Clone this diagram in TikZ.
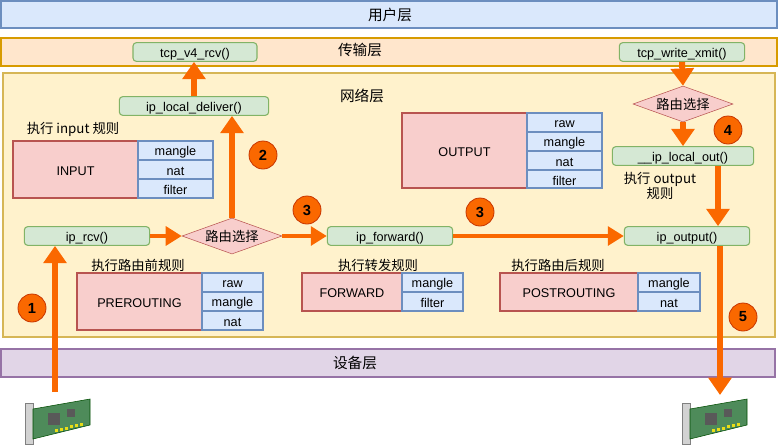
\documentclass[tikz,border=0pt]{standalone}
\usepackage{fontspec}
\setmainfont{Liberation Sans}
\newfontfamily\cjk{Noto Sans CJK SC}
\usetikzlibrary{arrows.meta,shapes.geometric}
\definecolor{ublue}{HTML}{DAE8FC}\definecolor{ubluel}{HTML}{6C8EBF}
\definecolor{torg}{HTML}{FFE6CC}\definecolor{torgl}{HTML}{D79B00}
\definecolor{nyel}{HTML}{FFF2CC}\definecolor{nyell}{HTML}{D6B656}
\definecolor{dpur}{HTML}{E1D5E7}\definecolor{dpurl}{HTML}{9673A6}
\definecolor{gfill}{HTML}{D5E8D4}\definecolor{gline}{HTML}{82B366}
\definecolor{pfill}{HTML}{F8CECC}\definecolor{pline}{HTML}{B85450}
\definecolor{orng}{HTML}{FA6800}\definecolor{orngl}{HTML}{C73500}
\definecolor{cardg}{HTML}{4E8B5A}
\begin{document}
\begin{tikzpicture}[x=0.75pt,y=-0.75pt,
  layer/.style={draw=#1,line width=0.9pt},
  lbl/.style={font=\cjk\fontsize{11}{12}\selectfont},
  fn/.style={draw=gline,fill=gfill,rounded corners=2.5pt,line width=0.8pt,minimum height=14pt,inner sep=0pt,text height=8.5pt,text depth=1pt,font=\fontsize{9.5}{10}\selectfont},
  dia/.style={diamond,aspect=2.8,draw=pline,fill=pfill,inner sep=0.5pt,minimum width=75pt,minimum height=27pt,font=\cjk\fontsize{10}{10}\selectfont},
  chain/.style={fill=pfill,draw=pline,line width=0.8pt},
  tbl/.style={fill=ublue,draw=ubluel,line width=0.8pt},
  tt/.style={text=black,yshift=-1.2pt,font=\fontsize{9.5}{10}\selectfont},
  note/.style={font=\cjk\fontsize{10}{11}\selectfont},
  num/.style={circle,fill=orng,draw=orngl,line width=0.6pt,minimum width=21pt,minimum height=18pt,inner sep=0pt,font=\bfseries\fontsize{11}{12}\selectfont},
  big/.style={draw=orng,line width=4.5pt,-{Triangle[width=17pt,length=13pt]}},
  thin/.style={draw=orng,line width=3pt,-{Triangle[width=14pt,length=12pt]}}]
\useasboundingbox (0,0) rectangle (779,444);
\draw[layer=ubluel,fill=ublue] (1,1) rectangle (777,28);
\node[lbl] (ul) at (390,15) {用户层};
\draw[layer=torgl,fill=torg] (1,38) rectangle (777,66);
\node[lbl] (tl) at (360,50) {传输层};
\draw[layer=nyell,fill=nyel] (3,73) rectangle (775,337);
\node[lbl] (nl) at (362,96) {网络层};
\draw[layer=dpurl,fill=dpur] (1,349) rectangle (775,377);
\node[lbl] (dl) at (355,363) {设备层};
\node[fn,minimum width=93pt] (tcprcv) at (195,52) {tcp\_v4\_rcv()};
\node[fn,minimum width=112pt] (deliver) at (194,106) {ip\_local\_deliver()};
\node[fn,minimum width=94pt] (xmit) at (682,52) {tcp\_write\_xmit()};
\node[fn,minimum width=106pt] (lout) at (683,156) {\_\_ip\_local\_out()};
\node[fn,minimum width=94pt] (iprcv) at (87,236) {ip\_rcv()};
\node[fn,minimum width=94pt] (fwd) at (390,236) {ip\_forward()};
\node[fn,minimum width=94pt] (ipout) at (687,236) {ip\_output()};
\node[dia] (route1) at (232,236) {路由选择};
\node[dia] (route2) at (683,104) {路由选择};
\node[note] (ninput) at (73,129) {执行 input 规则};
\draw[chain] (13,141) rectangle node[tt] (input) {INPUT} (138,198);
\draw[tbl] (138,141) rectangle node[tt] {mangle} (213,160);
\draw[tbl] (138,160) rectangle node[tt] {nat} (213,179);
\draw[tbl] (138,179) rectangle node[tt] {filter} (213,198);
\draw[chain] (402,113) rectangle node[tt] (output) {OUTPUT} (527,188);
\draw[tbl] (527,113) rectangle node[tt] {raw} (602,132);
\draw[tbl] (527,132) rectangle node[tt] {mangle} (602,151);
\draw[tbl] (527,151) rectangle node[tt] {nat} (602,170);
\draw[tbl] (527,170) rectangle node[tt] {filter} (602,188);
\node[note,align=center] (noutput) at (660,186) {执行 output\\规则};
\node[note] (npre) at (138,265) {执行路由前规则};
\draw[chain] (77,273) rectangle node[tt] (pre) {PREROUTING} (202,330);
\draw[tbl] (202,273) rectangle node[tt] {raw} (263,292);
\draw[tbl] (202,292) rectangle node[tt] {mangle} (263,311);
\draw[tbl] (202,311) rectangle node[tt] {nat} (263,330);
\node[note] (nfwd) at (378,265) {执行转发规则};
\draw[chain] (302,273) rectangle node[tt] (forward) {FORWARD} (402,311);
\draw[tbl] (402,273) rectangle node[tt] {mangle} (463,292);
\draw[tbl] (402,292) rectangle node[tt] {filter} (463,311);
\node[note] (npost) at (558,265) {执行路由后规则};
\draw[chain] (500,273) rectangle node[tt] (post) {POSTROUTING} (638,311);
\draw[tbl] (638,273) rectangle node[tt] {mangle} (700,292);
\draw[tbl] (638,292) rectangle node[tt] {nat} (700,311);
\begin{scope}[shift={(25,395)}]
 \fill[gray!35,draw=gray] (0,8) rectangle (8,49);
 \fill[cardg,draw=green!30!black] (8,14) -- (65,4) -- (65,30) -- (8,44) -- cycle;
 \fill[gray!70!black] (23,18) rectangle (35,30);
 \fill[gray!70!black] (42,14) rectangle (50,22);
 \foreach \k in {0,...,5}{\fill[yellow!90!black] (30+\k*5,34-\k*1.2) rectangle ++(3,3);}
\end{scope}
\coordinate (nic1) at (55,392);
\begin{scope}[shift={(682,395)}]
 \fill[gray!35,draw=gray] (0,8) rectangle (8,49);
 \fill[cardg,draw=green!30!black] (8,14) -- (65,4) -- (65,30) -- (8,44) -- cycle;
 \fill[gray!70!black] (23,18) rectangle (35,30);
 \fill[gray!70!black] (42,14) rectangle (50,22);
 \foreach \k in {0,...,5}{\fill[yellow!90!black] (30+\k*5,34-\k*1.2) rectangle ++(3,3);}
\end{scope}
\coordinate (nic2) at (720,395);
\draw[big] (nic1) -- (nic1 |- iprcv.south);
\draw[thin] (iprcv.east) -- (route1.west);
\draw[thin] (route1.east) -- (fwd.west);
\draw[big] (route1.north) -- (route1.north |- deliver.south);
\draw[big] (deliver.north) -- (deliver.north |- tcprcv.south);
\draw[thin] (fwd.east) -- (ipout.west);
\draw[big] (xmit.south) -- (route2.north);
\draw[big] (route2.south) -- (lout.north);
\coordinate (a4) at (718,0);
\draw[big] (a4 |- lout.south) -- (a4 |- ipout.north);
\draw[big] (nic2 |- ipout.south) -- (nic2);
\node[num] (n1) at (32,308) {1};
\node[num] (n2) at (263,155) {2};
\node[num] (n3a) at (307,210) {3};
\node[num] (n3b) at (480,212) {3};
\node[num] (n4) at (728,130) {4};
\node[num] (n5) at (743,317) {5};
\end{tikzpicture}
\end{document}
